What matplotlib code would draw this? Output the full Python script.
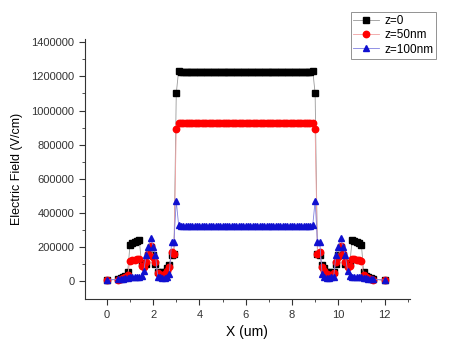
import matplotlib
matplotlib.use('Agg')
import matplotlib.pyplot as plt
import numpy as np

plt.rcParams['font.family'] = ['Liberation Sans', 'DejaVu Sans']

# Data, left half; right half is the mirror image
x_left = [0.0, 0.5, 0.6, 0.7, 0.8, 0.9, 1.0, 1.1, 1.2, 1.3, 1.4, 1.5, 1.6, 1.7,
          1.8, 1.9, 2.0, 2.1, 2.2, 2.3, 2.4, 2.5, 2.6, 2.7, 2.8, 2.9, 3.0]
z0_left = [5000, 10000, 15000, 20000, 30000, 50000, 210000, 220000, 228000, 234000,
           240000, 105000, 100000, 100000, 150000, 200000, 150000, 100000, 50000,
           40000, 50000, 55000, 77000, 95000, 150000, 160000, 1100000]
z50_left = [5000, 8000, 10000, 15000, 20000, 35000, 115000, 120000, 125000, 128000,
            130000, 85000, 80000, 110000, 160000, 205000, 140000, 110000, 45000,
            35000, 35000, 38000, 60000, 80000, 170000, 160000, 890000]
z100_left = [5000, 10000, 10000, 12000, 15000, 18000, 22000, 24000, 24000, 25000,
             25000, 30000, 60000, 154000, 200000, 254000, 200000, 154000, 24000,
             20000, 18000, 18000, 20000, 40000, 230000, 230000, 470000]

x_mid = [round(3.1 + 0.1 * i, 1) for i in range(59)]
z0_mid = [1232000, 1228000] + [1225000] * 55 + [1228000, 1232000]
z50_mid = [925000] * 59
z100_mid = [330000] + [320000] * 57 + [330000]

x = x_left + x_mid + [round(12 - v, 1) for v in x_left[::-1]]
z0 = z0_left + z0_mid + z0_left[::-1]
z50 = z50_left + z50_mid + z50_left[::-1]
z100 = z100_left + z100_mid + z100_left[::-1]

fig = plt.figure(figsize=(4.74, 3.54), dpi=100)
ax = fig.add_axes([0.179, 0.155, 0.686, 0.735])

ax.plot(x, z0, '-s', color='#999999', lw=0.6, mfc='black', mec='black', ms=4.3, label='z=0')
ax.plot(x, z50, '-o', color='#f0a0a0', lw=0.6, mfc='red', mec='red', ms=4.6, label='z=50nm')
ax.plot(x, z100, '-^', color='#8080e0', lw=0.6, mfc='#1010d0', mec='#1010d0', ms=4.8, label='z=100nm')

ax.set_xlim(-0.95, 13.1)
ax.set_ylim(-107000, 1420000)
ax.set_xticks(np.arange(0, 13, 2))
ax.set_xticks(np.arange(-0, 14, 1), minor=True)
ax.set_yticks(np.arange(0, 1400001, 200000))
ax.set_yticks(np.arange(0, 1400001, 100000), minor=True)
ax.yaxis.set_major_formatter(plt.FuncFormatter(lambda v, p: '%d' % v))

ax.spines['top'].set_visible(False)
ax.spines['right'].set_visible(False)
for s in ('left', 'bottom'):
    ax.spines[s].set_color('#333333')
    ax.spines[s].set_linewidth(0.8)
ax.tick_params(direction='out', labelsize=8, length=4, colors='#333333', labelcolor='#333333')
ax.tick_params(which='minor', direction='out', length=2.5, colors='#333333')

ax.set_xlabel('X (um)', fontsize=10)
ax.set_ylabel('Electric Field (V/cm)', fontsize=9, labelpad=6)

leg = fig.legend(loc='upper left', bbox_to_anchor=(0.727, 0.983), fontsize=8.5,
                 frameon=True, fancybox=False, handlelength=2.2, handletextpad=0.4,
                 borderpad=0.25, labelspacing=0.2)
leg.get_frame().set_edgecolor('#777777')
leg.get_frame().set_linewidth(0.7)

fig.savefig('out.png', dpi=100)
plt.close(fig)
